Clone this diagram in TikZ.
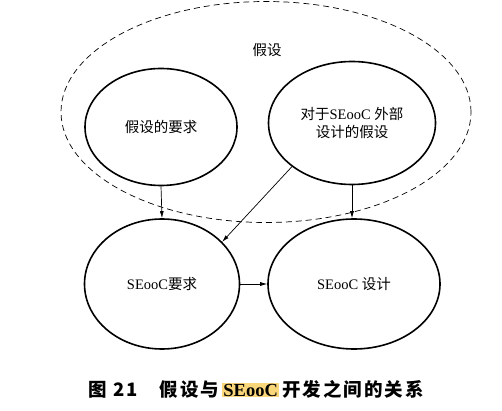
\documentclass[tikz,border=0pt]{standalone}
\usepackage{fontspec}
\setmainfont{Liberation Serif}
\newfontfamily\cjk{Noto Sans CJK SC}
\newfontfamily\capfont[LetterSpace=11]{Noto Sans CJK SC}
\usetikzlibrary{shapes.geometric,arrows.meta}
\definecolor{hl}{RGB}{250,214,122}
\begin{document}
\begin{tikzpicture}[x=1pt,y=-1pt,
  oval/.style={ellipse,draw,line width=1.6pt,inner sep=0pt,align=center,font=\fontsize{14.5}{18}\selectfont},
  arr/.style={-{Latex[length=7pt,width=4pt]},line width=0.7pt},
  outer/.style={ellipse,draw,dash pattern=on 6pt off 4pt,line width=0.7pt,inner sep=0pt}]
\useasboundingbox (0,0) rectangle (502,411);
\node[outer,minimum width=410pt,minimum height=221pt] (all) at (266,112) {};
\node[font=\fontsize{14.5}{18}\selectfont\cjk] (lbl) at (267,50) {假设};
\node[oval,minimum width=152pt,minimum height=117pt] (req) at (161,127) {\cjk 假设的要求};
\node[oval,minimum width=167pt,minimum height=123pt] (ext) at (352,123) {{\cjk 对于}SEooC {\cjk 外部}\\{\cjk 设计的假设}};
\node[oval,minimum width=155pt,minimum height=130pt] (sreq) at (162,284) {SEooC{\cjk 要求}};
\node[oval,minimum width=172pt,minimum height=130pt] (sdes) at (354,284) {SEooC {\cjk 设计}};
\draw[arr] (req.south) -- (sreq.north);
\draw[arr] (ext.south) -- (ext.south |- sdes.north);
\draw[arr] (ext.216) -- (sreq.35);
\draw[arr] (sreq.east) -- (sdes.west);
\node[font=\fontsize{18.5}{22}\selectfont\capfont\bfseries,inner sep=0pt] (cap) at (256,389) {图 21\hspace{1.2em}假设与\,{\setlength{\fboxsep}{1pt}\colorbox{hl}{\rmfamily\bfseries SEooC}}\,开发之间的关系};
\end{tikzpicture}
\end{document}
